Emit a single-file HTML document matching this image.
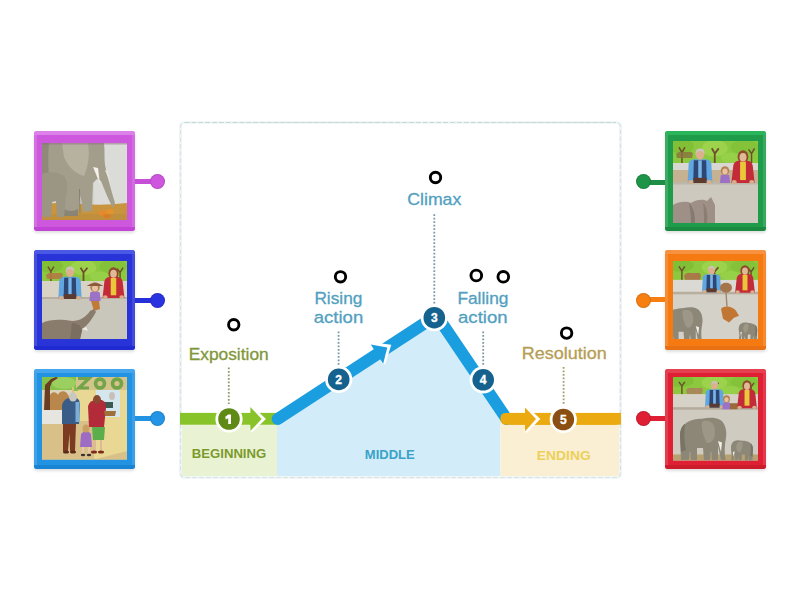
<!DOCTYPE html>
<html><head><meta charset="utf-8">
<style>
html,body{margin:0;padding:0;background:#fff;width:800px;height:600px;overflow:hidden;font-family:"Liberation Sans",sans-serif;}
.card{position:absolute;width:101px;height:100px;border-radius:3px;box-sizing:border-box;box-shadow:inset 3px 0 0 rgba(255,255,255,0.14),inset -3px 0 0 rgba(255,255,255,0.12),0 2px 3px rgba(0,0,0,0.13);}
.card .hl{position:absolute;left:0;top:0;right:0;height:4px;border-radius:3px 3px 0 0;}
.card .dk{position:absolute;left:0;bottom:0;right:0;height:4px;border-radius:0 0 3px 3px;}
.card svg.pic{position:absolute;}
.dot{position:absolute;width:15px;height:15px;border-radius:50%;box-shadow:inset 0 0 0 1px rgba(0,0,0,0.12);}
.stem{position:absolute;height:5px;}
#dg{position:absolute;left:0;top:0;}
</style></head><body>

<svg width="0" height="0" style="position:absolute">
<defs>
 <symbol id="man" viewBox="0 0 24 34" overflow="visible">
  <path d="M1,15 Q2,11 7,11 H17 Q22,11 23,15 L24,34 H0 Z" fill="#62a6e0"/>
  <path d="M6,12 H18 L18.5,31 H5.5 Z" fill="#2c4676"/>
  <rect x="10.3" y="12" width="3.4" height="19" fill="#7ab6e6"/>
  <rect x="5.5" y="29" width="13" height="5" fill="#5c3a2e"/>
  <ellipse cx="12" cy="6" rx="4.3" ry="5.3" fill="#dcb08e"/>
  <path d="M7.6,6 Q7.5,0.4 12,0.5 Q16.5,0.4 16.4,6 Q15,3 12,3 Q9,3 7.6,6 Z" fill="#c9c5bd"/>
  <ellipse cx="3" cy="33" rx="2.6" ry="2" fill="#d9ae8a"/>
  <ellipse cx="21" cy="33" rx="2.6" ry="2" fill="#d9ae8a"/>
 </symbol>
 <symbol id="woman" viewBox="0 0 24 34" overflow="visible">
  <ellipse cx="12" cy="7" rx="5.6" ry="6.8" fill="#8e4a2a"/>
  <path d="M2,16 Q3,11 8,11 H16 Q21,11 22,16 L24,34 H0 Z" fill="#c42b38"/>
  <path d="M9,12 H15 L15,31 H9 Z" fill="#e9c63a"/>
  <ellipse cx="12" cy="7.5" rx="3.6" ry="4.4" fill="#e2b996"/>
  <ellipse cx="3" cy="33" rx="2.6" ry="2" fill="#d9ae8a"/>
  <ellipse cx="21" cy="33" rx="2.6" ry="2" fill="#d9ae8a"/>
 </symbol>
 <symbol id="girl" viewBox="0 0 14 20" overflow="visible">
  <path d="M1,20 L2,11 Q7,8.5 12,11 L13,20 Z" fill="#9b72c6"/>
  <ellipse cx="7" cy="5.5" rx="5" ry="5.2" fill="#b5824e"/>
  <ellipse cx="7" cy="6.5" rx="3.1" ry="3.5" fill="#e8c2a2"/>
 </symbol>
 <symbol id="trees" viewBox="0 0 86 22" preserveAspectRatio="none">
  <rect width="86" height="22" fill="#8cc93e"/>
  <ellipse cx="8" cy="5" rx="13" ry="7" fill="#80bf36"/>
  <ellipse cx="42" cy="7" rx="13" ry="8" fill="#9dd24c"/>
  <ellipse cx="72" cy="6" rx="14" ry="7" fill="#84c23a"/>
  <ellipse cx="58" cy="16" rx="10" ry="5" fill="#96cf48"/>
  <path d="M9,22 L9,11 L6,6 M9,11 L12,6" stroke="#6e4e2c" stroke-width="1.5" fill="none"/>
  <path d="M42,22 L42,12 L39,7 M42,12 L46,7" stroke="#6e4e2c" stroke-width="1.8" fill="none"/>
  <path d="M79,22 L79,12 L76,8 M79,12 L82,7" stroke="#6e4e2c" stroke-width="1.5" fill="none"/>
 </symbol>
 <symbol id="ele" viewBox="0 0 50 44" overflow="visible">
  <path fill="#8d8778" d="M3,44 L2,20 C2,8 12,3 24,3 C30,2 36,1 42,4 C47,7 49,14 48,22 C47,28 46,34 47.5,44 L43,44 C41.5,38 41,33 40,30 L40,44 L34,44 L33,35 L32,44 L26,44 L25,32 L19,32 L19,44 L13,44 L12,35 L11,44 Z"/>
  <path fill="#9d9788" d="M24,6 C30,3 37,6 37,16 C37,24 33,28 28.5,26.5 C25,20 23,12 24,6 Z"/>
  <path fill="#7a7466" d="M2,20 C2,14 4,10 7,8 C6,16 6,26 8,34 L3,36 Z"/>
  <path fill="#f1efe8" d="M40,25 L44,26.5 L43,36 Z"/>
 </symbol>
 <symbol id="eleph" viewBox="0 0 50 44" overflow="visible">
  <path d="M2,44 L2,22 C2,10 10,4 20,3 C26,2 30,2 33,4 C40,3 47,8 48,16 C49,24 47,30 46,36 L47,44 L40,44 L39,36 L37,38 L36,44 L29,44 L28,34 L18,34 L16,44 L10,44 L9,36 L6,44 Z" fill="#8d8778"/>
  <path d="M30,6 C36,4 42,9 41,18 C40,24 36,27 32,26 C29,20 28,12 30,6 Z" fill="#9a9484"/>
  <path d="M44,16 C47,26 46,34 47,40 L44,42 C42,34 41,26 42,18 Z" fill="#7d7768"/>
  <path d="M38,26 L42,27 L40,36 Z" fill="#f3f1ea"/>
 </symbol>
</defs></svg>

<svg id="dg" width="800" height="600" viewBox="0 0 800 600">
  <!-- region fills -->
  <rect x="181" y="424" width="96.5" height="53.5" fill="#e9f3d3"/>
  <polygon points="277,477.5 277,424 277.5,419 436.7,315.4 506.6,419 500.5,424 500.5,477.5" fill="#d2edf9"/>
  <rect x="500.5" y="424" width="119.5" height="53.5" fill="#faefd2"/>
  <!-- dashed frame -->
  <rect x="180.5" y="122.5" width="440" height="355" rx="4" fill="none" stroke="#f0f6f6" stroke-width="3"/>
  <rect x="180.5" y="122.5" width="440" height="355" rx="4" fill="none" stroke="#d9e2e4" stroke-width="1.2" stroke-dasharray="4.5 2.5"/>
  <line x1="185" y1="122.5" x2="616" y2="122.5" stroke="#c6dad8" stroke-width="1.2" stroke-dasharray="4.5 2.3"/>
  <!-- green bar -->
  <rect x="180" y="412.9" width="97" height="11.8" fill="#89c32a"/>
  <polyline points="250.4,407 262.8,419 250.4,431" fill="none" stroke="#fff" stroke-width="4.4" stroke-linejoin="miter"/>
  <polygon points="250.4,407 261.6,419 250.4,431" fill="#89c32a"/>
  <!-- blue path -->
  <polyline points="277.7,419 436.7,315.4 506.6,419" fill="none" stroke="#1b9ee0" stroke-width="12" stroke-linecap="round" stroke-linejoin="round"/>
  <!-- blue arrow head on rising line -->
  <g transform="translate(387.3,347.4) rotate(-33)">
    <polyline points="-12.3,-11.4 1.3,0 -12.3,11.4" fill="none" stroke="#fff" stroke-width="4.4"/>
    <polygon points="-12.3,-11.4 0,0 -12.3,11.4" fill="#1b9ee0"/>
  </g>
  <!-- yellow bar -->
  <rect x="500.5" y="412.9" width="120.5" height="11.8" rx="5" fill="#ebab10"/>
  <rect x="510" y="412.9" width="111" height="11.8" fill="#ebab10"/>
  <polyline points="525,407.5 537.2,419 525,431.5" fill="none" stroke="#fff" stroke-width="4.4"/>
  <polygon points="525,407.5 536,419 525,431.5" fill="#ebab10"/>
  <!-- numbered circles -->
  <g font-family="Liberation Sans" font-weight="bold" font-size="12" fill="#fff" text-anchor="middle" stroke-width="0.35">
    <circle cx="229" cy="419" r="13.6" fill="#fff"/><circle cx="229" cy="419" r="10.8" fill="#5f8a16"/><path d="M228.2,414.5 H231 V424 H228.2 V418.2 L225.7,419.4 L225.3,416.8 Z" fill="#fff" stroke="none"/>
    <circle cx="338.7" cy="379.4" r="13.6" fill="#fff"/><circle cx="338.7" cy="379.4" r="10.8" fill="#15628e"/><text x="338.7" y="383.7" stroke="#fff">2</text>
    <circle cx="434.3" cy="317.7" r="13.6" fill="#fff"/><circle cx="434.3" cy="317.7" r="10.8" fill="#15628e"/><text x="434.3" y="322" stroke="#fff">3</text>
    <circle cx="483.2" cy="379.8" r="13.6" fill="#fff"/><circle cx="483.2" cy="379.8" r="10.8" fill="#15628e"/><text x="483.2" y="384.1" stroke="#fff">4</text>
    <circle cx="563.3" cy="419.5" r="13.6" fill="#fff"/><circle cx="563.3" cy="419.5" r="10.8" fill="#8b4f12"/><text x="563.3" y="423.8" stroke="#fff">5</text>
  </g>
  <!-- dotted leaders -->
  <g stroke-width="1.8" stroke-dasharray="1.7 1.8" fill="none">
    <line x1="228.8" y1="367.5" x2="228.8" y2="404" stroke="#8e9a6a"/>
    <line x1="338.6" y1="331.5" x2="338.6" y2="366" stroke="#7a98a6"/>
    <line x1="434.3" y1="214.3" x2="434.3" y2="304" stroke="#7a98a6"/>
    <line x1="483.2" y1="331.6" x2="483.2" y2="366" stroke="#7a98a6"/>
    <line x1="563.6" y1="367" x2="563.6" y2="405" stroke="#a89a6a"/>
  </g>
  <!-- labels -->
  <g font-family="Liberation Sans" font-size="16.3" text-anchor="middle" stroke-width="0.3">
    <text x="228.7" y="359.6" fill="#7f973a" stroke="#7f973a" stroke-width="0.3" textLength="80" lengthAdjust="spacingAndGlyphs">Exposition</text>
    <text x="338.4" y="303.8" fill="#529fc0" stroke="#529fc0" textLength="48" lengthAdjust="spacingAndGlyphs">Rising</text>
    <text x="338.5" y="323.3" fill="#529fc0" stroke="#529fc0" textLength="49.5" lengthAdjust="spacingAndGlyphs">action</text>
    <text x="434.3" y="204.5" fill="#529fc0" stroke="#529fc0" textLength="54" lengthAdjust="spacingAndGlyphs">Climax</text>
    <text x="482.9" y="303.7" fill="#529fc0" stroke="#529fc0" textLength="51" lengthAdjust="spacingAndGlyphs">Falling</text>
    <text x="482.8" y="323.3" fill="#529fc0" stroke="#529fc0" textLength="49.5" lengthAdjust="spacingAndGlyphs">action</text>
    <text x="564.3" y="359.4" fill="#b69d55" stroke="#b69d55" textLength="85" lengthAdjust="spacingAndGlyphs">Resolution</text>
  </g>
  <g font-family="Liberation Sans" font-size="12" font-weight="bold" text-anchor="middle">
    <text x="229" y="458.3" fill="#7c9a2c" textLength="74.5" lengthAdjust="spacingAndGlyphs">BEGINNING</text>
    <text x="389.8" y="458.5" fill="#3aa2c8" textLength="50" lengthAdjust="spacingAndGlyphs">MIDDLE</text>
    <text x="563.8" y="460.3" fill="#ecd05a" font-size="12.8" textLength="54" lengthAdjust="spacingAndGlyphs">ENDING</text>
  </g>
  <!-- small rings -->
  <g fill="none" stroke="#000" stroke-width="2.9">
    <circle cx="233.75" cy="324.75" r="5.2"/>
    <circle cx="340.5" cy="276.8" r="5.2"/>
    <circle cx="435.5" cy="177.5" r="5.2"/>
    <circle cx="476.3" cy="275.5" r="5.35"/>
    <circle cx="503.3" cy="276.8" r="5.35"/>
    <circle cx="566.6" cy="333.1" r="5.25"/>
  </g>
</svg>

<!-- LEFT CARDS -->
<div class="card" style="left:34px;top:131px;background:#cd58de;">
  <div class="hl" style="background:#dc80ea"></div><div class="dk" style="background:#c244d6"></div>
  <svg class="pic" style="left:8px;top:12px" width="85" height="77" viewBox="0 0 85 77">
   <rect width="85" height="77" fill="#d3d4ce"/>
   <rect x="52" width="33" height="62" fill="#dbdcd8"/>
   <path d="M0,61 Q20,59 40,61 T85,60 V77 H0 Z" fill="#c8953e"/>
   <rect y="71" width="85" height="6" fill="#b98a3e" opacity="0.55"/>
   <path fill="#a39e8c" d="M0,0 H62 C63,8 62,16 63,22 C66,36 70,50 73,60 L71,65 C67,58 63,48 59,38 L55,36 L51,40 L50,68 L41,69 L38.5,52 L36,73 L22,73 L21,42 L12,34 L0,33 Z"/>
   <path fill="#8f8979" d="M0,0 H7 C6,12 6,22 7,33 L0,33 Z"/>
   <path fill="#b7b1a0" d="M20,0 H46 C48,12 46,24 42,33 C34,31 26,24 22,14 Z"/>
   <path d="M37.5,46 L38,70" stroke="#858070" stroke-width="1"/>
   <path d="M22,66 Q29,70 36,66 L36,73 L22,73 Z" fill="#8a8474"/>
   <path fill="#f2f0e8" d="M51,24 L56,25 L58,41 Z"/>
   <path fill="#e6e4da" d="M63,27 L66,28 L69,42 Z"/>
   <path fill="#9b9583" d="M0,31 C7,28 16,29 22,33 C26,38 26,46 24,54 L22,74 L15,74 L14,58 L10,59 L9,74 L2,74 L0,72 Z"/>
   <ellipse cx="61" cy="70" rx="4.5" ry="2.8" fill="#e58a2c"/>
   <ellipse cx="68" cy="68.5" rx="4" ry="2.6" fill="#e3922e"/>
   <ellipse cx="65" cy="73" rx="4" ry="2" fill="#d77d26"/>
   <rect width="85" height="1.5" fill="#8a6a80" opacity="0.5"/>
  </svg>
</div>
<div class="stem" style="left:135px;top:179.3px;width:18px;background:#c64fd8"></div>
<div class="dot" style="left:149.5px;top:174.4px;background:#cf57df"></div>

<div class="card" style="left:34px;top:250px;background:#2833d8;">
  <div class="hl" style="background:#4a58e6"></div><div class="dk" style="background:#1f2bd0"></div>
  <svg class="pic" style="left:8px;top:11px" width="85" height="78" viewBox="0 0 85 78">
   <rect width="85" height="78" fill="#c9c6bb"/>
   <use href="#trees" x="0" y="0" width="85" height="21"/>
   <path d="M4,14 Q7,11 11,12 L17,12 Q20,11 21,14 L20,18 H5 Z" fill="#b07a44" opacity="0.9"/>
   <rect y="20" width="85" height="17" fill="#d9d3c6"/>
   <rect y="36" width="85" height="2" fill="#b7b0a2"/>
      <use href="#man" x="16" y="5" width="24" height="33"/>
   <use href="#woman" x="60" y="6" width="23" height="31"/>
   <use href="#girl" x="45" y="21" width="16" height="19"/>
   <path d="M44.5,25 Q53,19 61.5,25 Z" fill="#8a5a3a"/>
   <path d="M49,40 L57,40 L58,48 L52,50 Z" fill="#c07a3a"/>
   <path fill="#8a7c6c" d="M0,62 C8,58 20,58 30,60 C38,60 44,56 48,50 L52,48 L54,51 C50,58 46,64 40,68 L38,78 H0 Z"/>
   <path fill="#7a6e60" d="M30,62 C36,62 40,66 40,70 L38,78 H28 Z"/>
   <path d="M40,68 L46,70 L44,66 Z" fill="#f0ede4"/>
  </svg>
</div>
<div class="stem" style="left:135px;top:297.5px;width:18px;background:#2630d8"></div>
<div class="dot" style="left:149.8px;top:292.6px;background:#2a33e0"></div>

<div class="card" style="left:34px;top:368.5px;background:#2292e3;">
  <div class="hl" style="background:#45a6ee"></div><div class="dk" style="background:#1a84d4"></div>
  <svg class="pic" style="left:8px;top:8.5px" width="85" height="82.5" viewBox="0 0 85 82.5">
   <rect width="85" height="82.5" fill="#e9d894"/>
   <rect x="0" y="44" width="52" height="38.5" fill="#d9c089"/>
   <path d="M52,82.5 L85,74 V82.5 Z" fill="#d9c089"/>
   <rect x="0" y="0" width="36" height="14" fill="#86c24a"/>
   <ellipse cx="22" cy="6" rx="12" ry="6" fill="#9bd060"/>
   <rect x="34" y="0" width="51" height="13" fill="#d3c48c"/>
   <path d="M36,1.5 H47 L37,11 H47" stroke="#74a448" stroke-width="3.2" fill="none"/>
   <circle cx="58" cy="6.5" r="6.3" fill="#74a448"/><circle cx="58" cy="6.5" r="2.6" fill="#d3c48c"/>
   <circle cx="75" cy="6.5" r="6.3" fill="#74a448"/><circle cx="75" cy="6.5" r="2.6" fill="#d3c48c"/>
   <rect x="0" y="13" width="30" height="21" fill="#dcd4bc"/>
   <path d="M6,31 L7,20 C9,14 14,14 16,18 C18,13 24,13 26,18 L29,22 C31,20 33,19 33,22 L30,30 L28,33 H8 Z" fill="#b9864c"/>
   <path d="M2,34 L3,8 L9,2 L14,0 L16,1 L10,5 L8,10 L8,34 Z" fill="#6a3c22"/>
   <rect x="0" y="33" width="24" height="14" fill="#e6e5e0"/>
   <rect x="30" y="10" width="2" height="40" fill="#d8c480"/>
   <rect x="54" y="13" width="24" height="27" fill="#d4e6ee"/>
   <ellipse cx="70" cy="19" rx="3" ry="4" fill="#c8c0b8"/>
   <rect x="62" y="25" width="9" height="6" fill="#3e5a50"/>
   <path d="M20,28 Q22,21 28,21 H34 Q38,22 38,28 L37,47 H20 Z" fill="#3a5d88"/>
   <rect x="33.5" y="25" width="4" height="20" fill="#7ab0d8"/>
   <ellipse cx="31" cy="20" rx="4" ry="4.5" fill="#c9c7c1"/>
   <path d="M21,47 H34 L33,74 H28 L27.5,56 L26,74 H21 Z" fill="#7c3a22"/>
   <ellipse cx="24" cy="75" rx="3" ry="1.5" fill="#5a2a1a"/><ellipse cx="31" cy="75" rx="3" ry="1.5" fill="#5a2a1a"/>
   <path d="M46,29 Q48,23 54,23 H60 Q64,25 64,31 L62,50 H47 Z" fill="#b32a38"/>
   <path d="M50,50 H63 L62,63 H51 Z" fill="#5cae4c"/>
   <ellipse cx="55" cy="22.5" rx="4" ry="4.4" fill="#8a4a30"/>
   <path d="M53,63 L53,74 M59,63 L59,74" stroke="#e0b898" stroke-width="2"/>
   <ellipse cx="52" cy="75" rx="3" ry="1.5" fill="#7a2a1a"/><ellipse cx="59" cy="75" rx="3" ry="1.5" fill="#7a2a1a"/>
   <path d="M62,34 H74 L73,39 H63 Z" fill="#a0703a"/>
   <path d="M39,57 Q44,51 49,57 L50,70 H38 Z" fill="#9d6cc4"/>
   <ellipse cx="44" cy="51.5" rx="3.5" ry="4" fill="#c9a062"/>
   <path d="M41,70 L41,77 M47,70 L47,77" stroke="#e8c8a8" stroke-width="2"/>
   <ellipse cx="41" cy="78" rx="2.2" ry="1.3" fill="#3a3030"/><ellipse cx="47" cy="78" rx="2.2" ry="1.3" fill="#3a3030"/>
  </svg>
</div>
<div class="stem" style="left:135px;top:415.6px;width:18px;background:#2292e3"></div>
<div class="dot" style="left:149.6px;top:410.6px;background:#2394e6"></div>

<!-- RIGHT CARDS -->
<div class="card" style="left:665px;top:131px;background:#1f9c4a;">
  <div class="hl" style="background:#2bb55a"></div><div class="dk" style="background:#1a8a40"></div>
  <svg class="pic" style="left:7.5px;top:9.6px" width="85.5" height="82" viewBox="0 0 85.5 82">
   <rect width="85.5" height="82" fill="#cdc9bf"/>
   <use href="#trees" x="0" y="0" width="85.5" height="23"/>
   <path d="M3,13 Q6,10 10,11 L16,11 Q19,10 20,13 L19,17 H4 Z" fill="#8a7040" opacity="0.8"/>
   <rect y="22" width="85.5" height="8" fill="#d9d7d1"/>
   <rect y="29" width="85.5" height="12" fill="#c6b193"/>
   <rect y="41" width="85.5" height="2.5" fill="#bdb7aa"/>
   <use href="#man" x="14" y="7" width="26" height="35"/>
   <use href="#girl" x="46" y="25" width="12" height="17"/>
   <use href="#woman" x="57" y="9" width="26" height="33"/>
   <path fill="#9e9086" d="M0,64 C6,60 14,60 18,62 C24,58 30,58 34,60 L38,56 L42,64 L42,82 H0 Z"/>
   <path fill="#857a70" d="M16,62 C20,66 22,72 22,82 H18 C18,74 17,68 16,62 Z"/>
   <path fill="#8a7d72" d="M30,62 C34,66 35,74 34,82 H31 C31,74 31,68 30,62 Z"/>
  </svg>
</div>
<div class="stem" style="left:647px;top:179.5px;width:18px;background:#1e8e46"></div>
<div class="dot" style="left:635.6px;top:174.4px;background:#1d9447"></div>

<div class="card" style="left:665px;top:250px;background:#f57a12;">
  <div class="hl" style="background:#f89240"></div><div class="dk" style="background:#ea7014"></div>
  <svg class="pic" style="left:7.5px;top:10.6px" width="85" height="78.5" viewBox="0 0 85 79" preserveAspectRatio="none">
   <rect width="85" height="79" fill="#d4d1c9"/>
   <use href="#trees" x="0" y="0" width="85" height="20"/>
   <path d="M11,15 Q13,11 17,12 L24,12 Q27,11 28,15 L27,19 H12 Z" fill="#a77a48"/>
   <rect y="19" width="85" height="13" fill="#dbd9d3"/>
   <rect y="31" width="85" height="2.5" fill="#b8ae9e"/>
   <use href="#man" x="29" y="4" width="19" height="28"/>
   <use href="#woman" x="62" y="4" width="20" height="28"/>
   <ellipse cx="53" cy="27" rx="6" ry="5" fill="#a4744a"/>
   <path d="M53,32 L54,46" stroke="#a08870" stroke-width="1.4"/>
   <path d="M48,48 C52,44 60,46 63,50 L66,55 L61,57 L56,62 L50,58 Z" fill="#c27634"/>
   <use href="#ele" x="-12" y="45" width="45" height="36"/>
   <use href="#ele" x="-85" y="61" width="20" height="18" transform="scale(-1,1)"/>
  </svg>
</div>
<div class="stem" style="left:647px;top:297.3px;width:18px;background:#f77f12"></div>
<div class="dot" style="left:635.6px;top:292.5px;background:#f77f12"></div>

<div class="card" style="left:665px;top:368.5px;background:#df1f34;">
  <div class="hl" style="background:#e44050"></div><div class="dk" style="background:#cc1c2c"></div>
  <svg class="pic" style="left:8px;top:8.5px" width="85" height="83.5" viewBox="0 0 85 83" preserveAspectRatio="none">
   <rect width="85" height="83" fill="#cfcbc1"/>
   <use href="#trees" x="0" y="0" width="85" height="18"/>
   <path d="M13,13 Q15,10 19,11 L26,11 Q29,10 30,13 L29,17 H14 Z" fill="#a88a58"/>
   <rect y="17" width="85" height="14" fill="#d6d2c8"/>
   <rect y="30" width="85" height="2.5" fill="#b3ab9c"/>
   <use href="#man" x="32" y="3" width="19" height="28"/>
   <use href="#girl" x="48" y="18" width="11" height="14"/>
   <path d="M57,26 H66 L64,32 H57 Z" fill="#9a6a3a"/>
   <use href="#woman" x="64" y="3" width="20" height="28"/>
   <rect y="77" width="85" height="6" fill="#b8a070"/>
   <use href="#ele" x="5" y="38" width="50" height="45"/>
   <use href="#ele" x="-82" y="62" width="26" height="21" transform="scale(-1,1)"/>
  </svg>
</div>
<div class="stem" style="left:647px;top:415.6px;width:18px;background:#df1f34"></div>
<div class="dot" style="left:635.6px;top:410.6px;background:#df1f34"></div>

</body></html>
